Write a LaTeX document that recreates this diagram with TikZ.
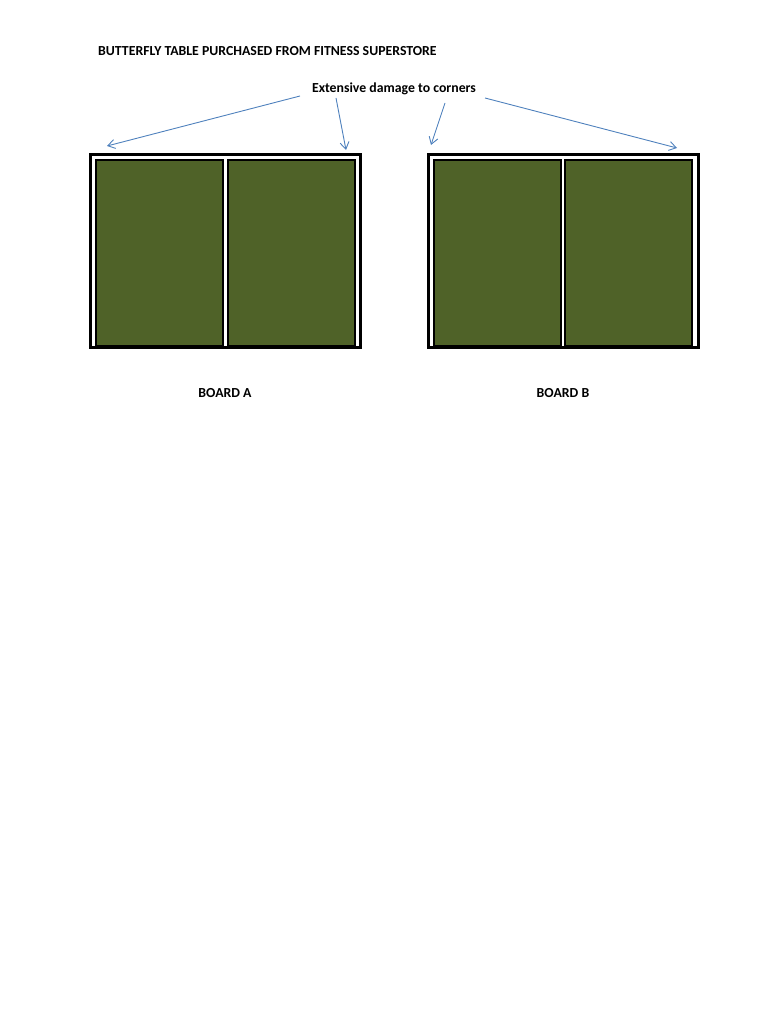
\documentclass[tikz,border=0pt]{standalone}
\usepackage{fontspec}
\setmainfont{Carlito}
\usetikzlibrary{arrows.meta}
\definecolor{felt}{RGB}{79,98,40}
\definecolor{arrowblue}{RGB}{79,129,189}
\begin{document}
\begin{tikzpicture}[x=1pt,y=-1pt,
  outerbox/.style={draw=black,line width=3pt,fill=white,inner sep=0pt,minimum width=270pt,minimum height=192pt},
  panel/.style={draw=black,line width=2pt,fill=felt,inner sep=0pt,minimum width=127pt,minimum height=185pt},
  lbl/.style={font=\fontsize{13.8}{16}\selectfont\bfseries,inner sep=0pt},
  pointer/.style={draw=arrowblue,line width=0.9pt,-{Straight Barb[length=7pt,width=9pt]}}]
\useasboundingbox (0,0) rectangle (768,1024);
\node[lbl,anchor=west] (title) at (98,51) {BUTTERFLY TABLE PURCHASED FROM FITNESS SUPERSTORE};
\node[lbl] (note) at (394,89) {Extensive damage to corners};
% Board A
\node[outerbox] (boardA) at (225,251) {};
\node[panel] (a1) at (159.5,253) {};
\node[panel] (a2) at (291,253) {};
% Board B
\node[outerbox] (boardB) at (563,251) {};
\node[panel] (b1) at (497,253) {};
\node[panel] (b2) at (628,253) {};
\node[lbl] (labA) at (225,393) {BOARD A};
\node[lbl] (labB) at (563,393) {BOARD B};
\coordinate (pA1) at (107,146);
\coordinate (pA2) at (346,150);
\coordinate (pB1) at (431,145);
\coordinate (pB2) at (677,148);
\draw[pointer] (300,96) -- (pA1);
\draw[pointer] (336,98) -- (pA2);
\draw[pointer] (445,103) -- (pB1);
\draw[pointer] (485,98) -- (pB2);
\end{tikzpicture}
\end{document}
